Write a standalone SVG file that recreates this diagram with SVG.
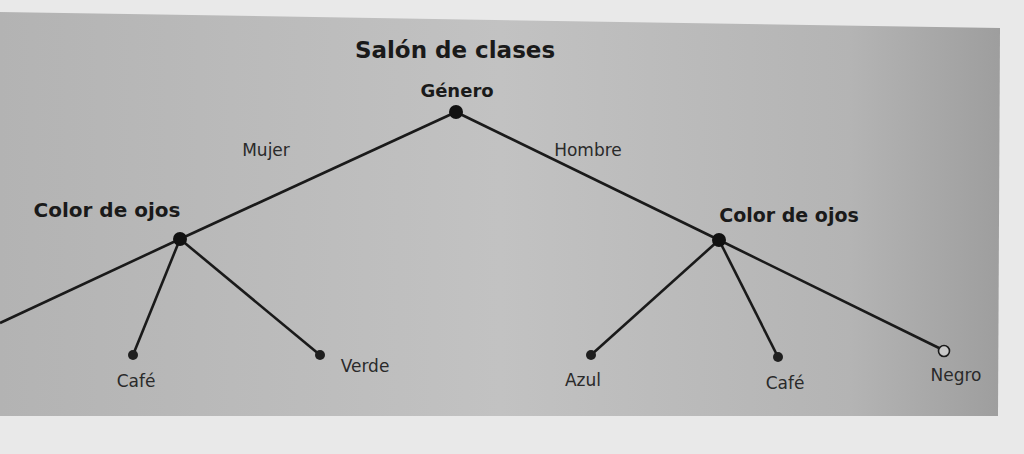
<svg xmlns="http://www.w3.org/2000/svg" width="1024" height="454" viewBox="0 0 1024 454">
<style>
.edge{stroke:#1a1a1a;stroke-width:2.6;fill:none}
.dot{fill:#111}
.leaf{fill:#1f1f1f}
.t{font-family:"DejaVu Sans","Liberation Sans",sans-serif;fill:#1a1a1a}
.b{font-weight:bold}
.lab{font-size:17px;fill:#2a2a2a}
</style>
<defs>
<linearGradient id="pg" x1="0" y1="0" x2="1" y2="0">
<stop offset="0" stop-color="#b3b3b3"/>
<stop offset="0.5" stop-color="#c2c2c2"/>
<stop offset="0.85" stop-color="#b4b4b4"/>
<stop offset="1" stop-color="#9e9e9e"/>
</linearGradient>
</defs>
<rect width="1024" height="454" fill="#e9e9e9"/>
<polygon points="0,12 1000,28 998,416 0,416" fill="url(#pg)"/>
<text class="t b" x="455" y="58" font-size="23" text-anchor="middle">Salón de clases</text>
<g id="connectors">
<line class="edge" x1="456" y1="112" x2="180" y2="239"/>
<line class="edge" x1="456" y1="112" x2="719" y2="240"/>
<line class="edge" x1="180" y1="239" x2="0" y2="323"/>
<line class="edge" x1="180" y1="239" x2="133" y2="355"/>
<line class="edge" x1="180" y1="239" x2="320" y2="355"/>
<line class="edge" x1="719" y1="240" x2="591" y2="355"/>
<line class="edge" x1="719" y1="240" x2="778" y2="357"/>
<line class="edge" x1="719" y1="240" x2="939" y2="348"/>
<text class="t lab" x="266" y="156" text-anchor="middle" font-size="18">Mujer</text>
<text class="t lab" x="588" y="156" text-anchor="middle" font-size="18">Hombre</text>
</g>
<g id="n-genero">
<circle class="dot" cx="456" cy="112" r="7"/>
<text class="t b" x="457" y="97" font-size="18" text-anchor="middle">Género</text>
</g>
<g id="n-color-izq">
<circle class="dot" cx="180" cy="239" r="7"/>
<text class="t b" x="107" y="217" font-size="20" text-anchor="middle">Color de ojos</text>
</g>
<g id="n-color-der">
<circle class="dot" cx="719" cy="240" r="7"/>
<text class="t b" x="789" y="222" font-size="19" text-anchor="middle">Color de ojos</text>
</g>
<g id="n-cafe-izq">
<circle class="leaf" cx="133" cy="355" r="5"/>
<text class="t lab" x="136" y="387" text-anchor="middle">Café</text>
</g>
<g id="n-verde">
<circle class="leaf" cx="320" cy="355" r="5"/>
<text class="t lab" x="365" y="372" text-anchor="middle">Verde</text>
</g>
<g id="n-azul">
<circle class="leaf" cx="591" cy="355" r="5"/>
<text class="t lab" x="583" y="386" text-anchor="middle">Azul</text>
</g>
<g id="n-cafe-der">
<circle class="leaf" cx="778" cy="357" r="5"/>
<text class="t lab" x="785" y="389" text-anchor="middle">Café</text>
</g>
<g id="n-negro">
<circle cx="944" cy="351" r="5.5" fill="#c8c8c8" stroke="#1a1a1a" stroke-width="1.6"/>
<text class="t lab" x="956" y="381" text-anchor="middle">Negro</text>
</g>
</svg>
